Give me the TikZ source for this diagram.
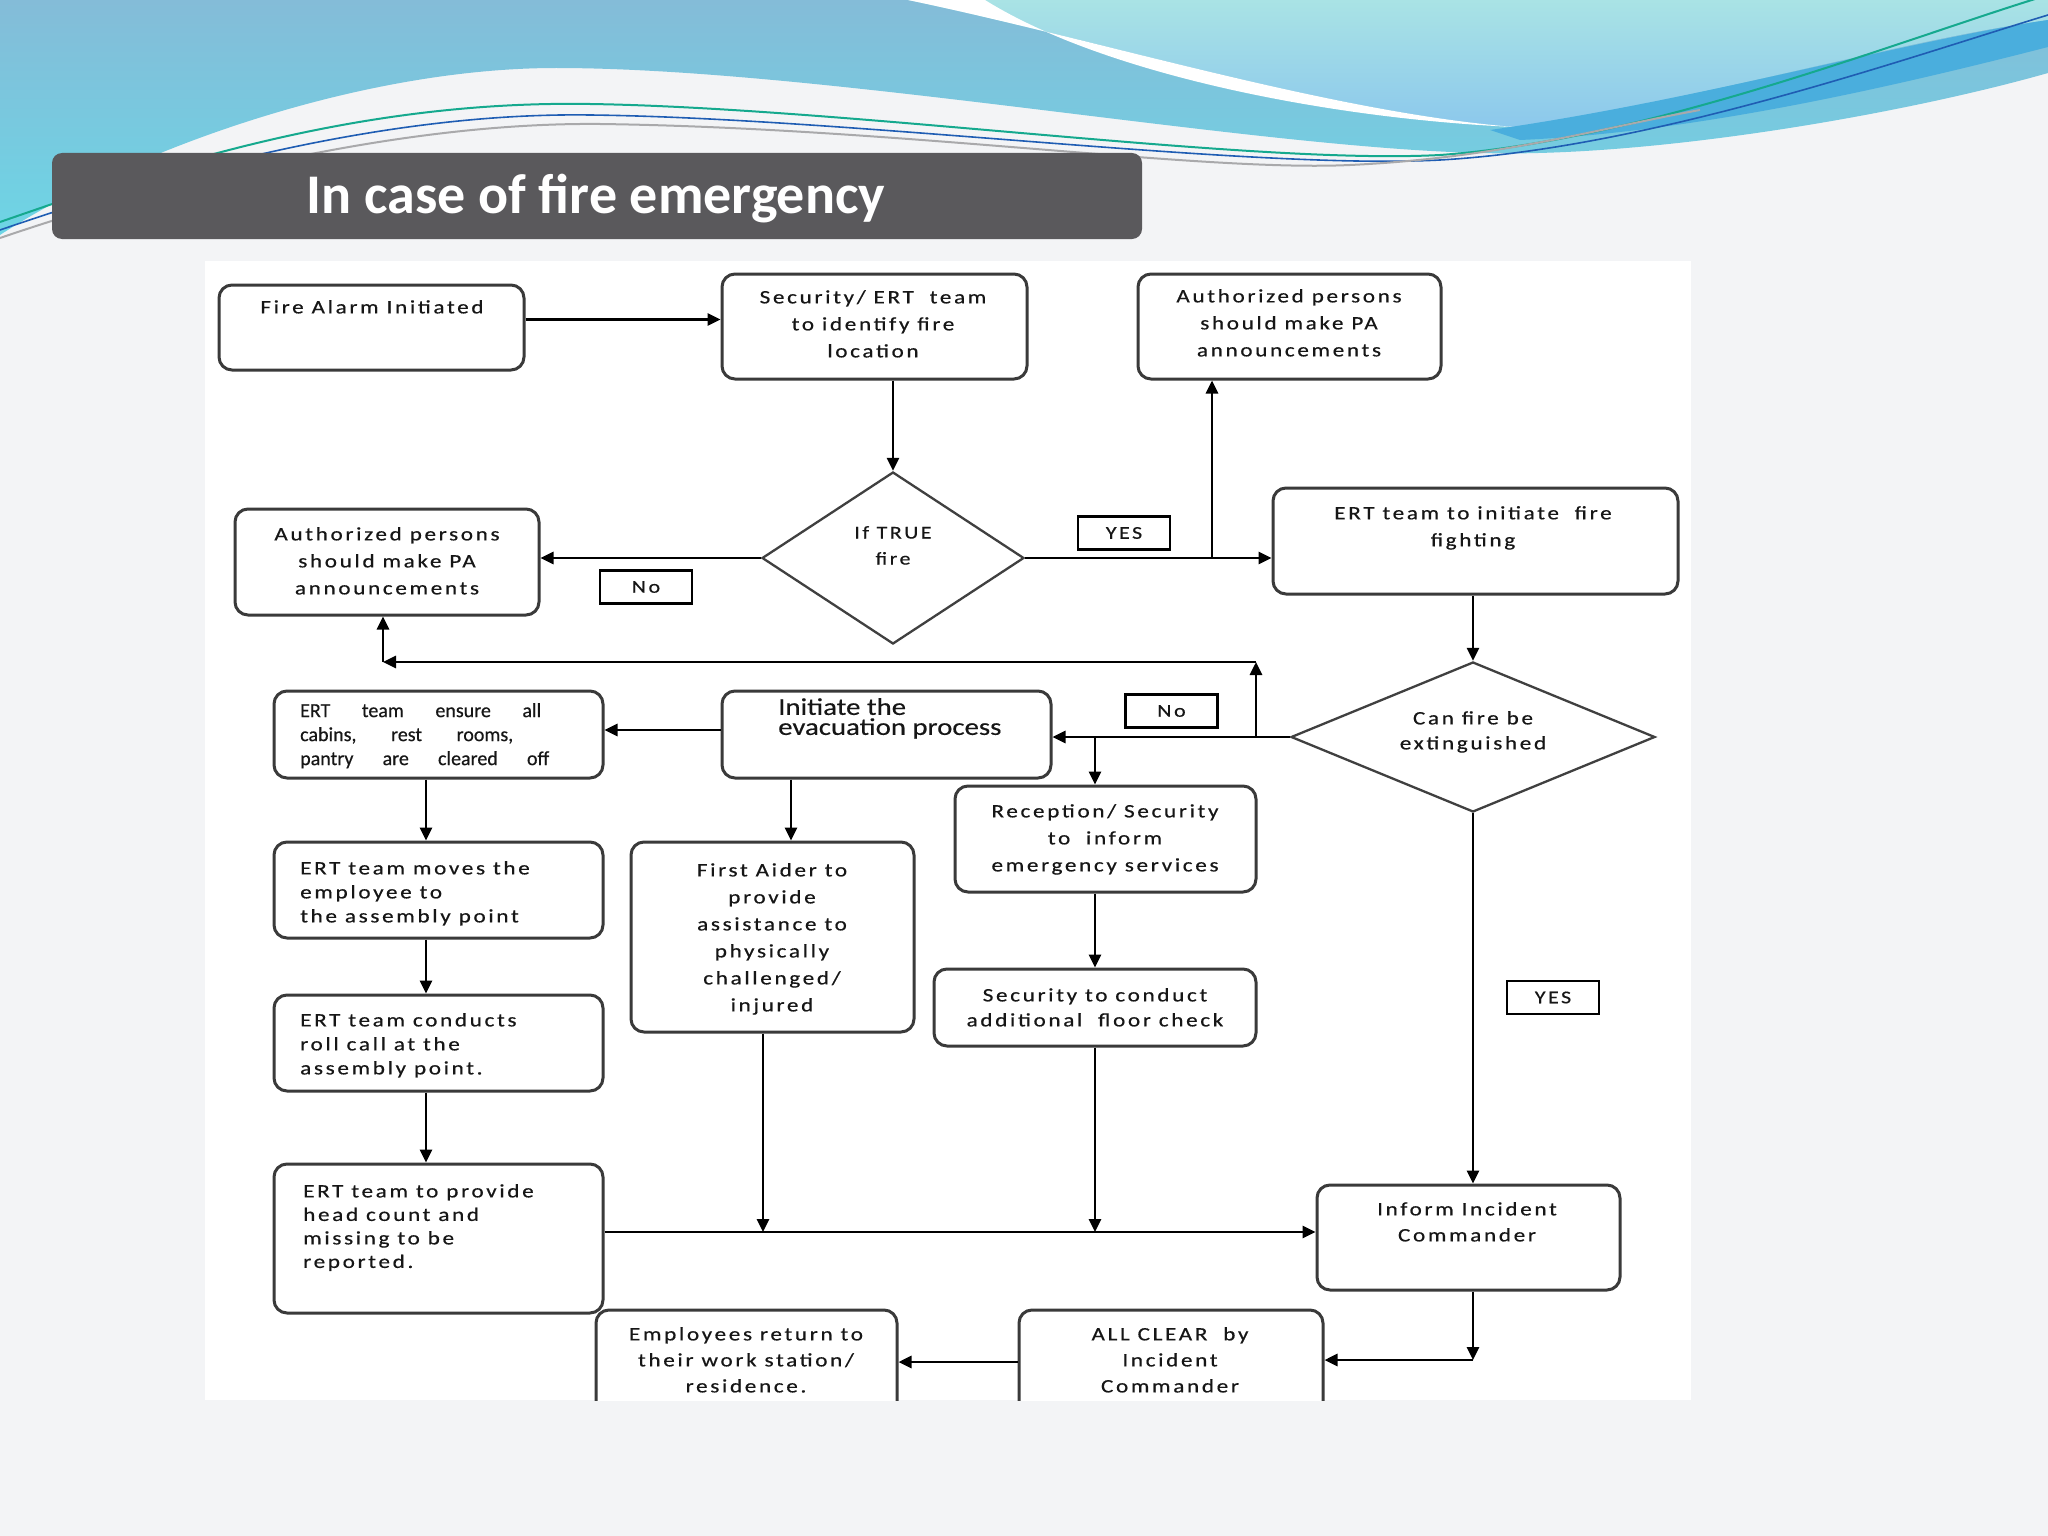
\documentclass[tikz,border=0pt]{standalone}
\usepackage{fontspec}
\setmainfont{Carlito}
\newfontfamily\chartfont[FakeStretch=1.22,LetterSpace=14,FakeBold=0.5]{Carlito}
\newfontfamily\initfont[FakeStretch=1.2,FakeBold=0.3]{Carlito}
\newfontfamily\plainfont[FakeBold=0.5]{Carlito}
\usetikzlibrary{shapes.geometric,arrows.meta}
\definecolor{slidebg}{HTML}{F3F4F6}
\definecolor{skya}{HTML}{84BCD8}
\definecolor{skyb}{HTML}{6DD5E5}
\definecolor{teala}{HTML}{A9E3E5}
\definecolor{tealb}{HTML}{8CC8EC}
\definecolor{bandc}{HTML}{4AAEDD}
\definecolor{linegreen}{HTML}{15A98E}
\definecolor{lineblue}{HTML}{1F5DB3}
\definecolor{linegrey}{HTML}{A9A9AB}
\definecolor{titlec}{HTML}{5A595C}
\definecolor{boxc}{HTML}{3A3A3A}
\definecolor{diac}{HTML}{404040}
\definecolor{txtc}{HTML}{161616}
\begin{document}
\begin{tikzpicture}[x=1pt,y=-1pt,
  box/.style={draw=boxc, line width=3pt, rounded corners=13pt, fill=white, inner sep=0pt},
  lab/.style={draw=black, line width=2.5pt, fill=white, inner sep=0pt, minimum width=92pt, minimum height=33pt, font=\chartfont\fontsize{18}{20}\selectfont, text=txtc},
  dia/.style={draw=diac, line width=2.3pt, diamond, fill=white, inner sep=0pt},
  txt/.style={font=\chartfont\fontsize{19}{27}\selectfont, align=center, anchor=north, inner sep=0pt, text=txtc},
  ltxt/.style={txt, align=left, anchor=north west},
  arr/.style={draw=black, line width=2.8pt, -{Triangle[length=13pt,width=12pt]}}
]
\useasboundingbox (0,0) rectangle (2048,1536);
% slide background
\fill[slidebg] (0,0) rectangle (2048,1536);
\shade[top color=skya, bottom color=skyb] (0,0) -- (2048,0) -- (2048,73)
  .. controls (1900,115) and (1650,158) .. (1481,153)
  .. controls (1250,148) and (820,68) .. (556,68)
  .. controls (360,68) and (130,150) .. (0,235) -- cycle;
\shade[top color=teala, bottom color=tealb] (908,0)
  .. controls (1100,40) and (1330,112) .. (1514,127)
  .. controls (1700,100) and (1900,40) .. (2048,20) -- (2048,0) -- cycle;
\fill[white] (908,0) .. controls (1100,40) and (1330,112) .. (1514,127)
  .. controls (1320,118) and (1100,72) .. (985,0) -- cycle;
\fill[bandc] (1490,130) .. controls (1700,100) and (1900,42) .. (2048,20)
  -- (2048,47) .. controls (1900,85) and (1700,132) .. (1520,140) -- cycle;
\draw[linegreen, line width=2pt] (0,222) .. controls (150,170) and (350,100) .. (590,104)
  .. controls (850,108) and (1250,165) .. (1440,155)
  .. controls (1650,140) and (1900,40) .. (2048,-5);
\draw[lineblue, line width=1.6pt] (0,230) .. controls (160,175) and (380,112) .. (590,115)
  .. controls (850,118) and (1250,170) .. (1440,160)
  .. controls (1650,148) and (1900,60) .. (2048,15);
\draw[linegrey, line width=2pt] (0,238) .. controls (170,180) and (400,122) .. (600,124)
  .. controls (900,128) and (1200,172) .. (1350,165)
  .. controls (1500,158) and (1600,128) .. (1700,110);
% title bar
\node[fill=titlec, rounded corners=10pt, minimum width=1090pt, minimum height=86pt, inner sep=0pt] (bar) at (597,196) {};
\node[font=\bfseries\fontsize{56}{60}\selectfont, text=white, anchor=base, inner sep=0pt] (title) at (596,213) {In case of fire emergency};
% diagram area
\fill[white] (205,261) rectangle (1691,1400);
\begin{scope}
\clip (205,261) rectangle (1691,1400);
% boxes
\node[box, minimum width=305pt, minimum height=85pt] (fa) at (371.5,327.5) {};
\node[box, minimum width=305pt, minimum height=105pt] (sec) at (874.5,326.5) {};
\node[box, minimum width=303pt, minimum height=105pt] (authR) at (1289.5,326.5) {};
\node[dia, minimum width=262pt, minimum height=172pt] (d1) at (893,558) {};
\node[box, minimum width=405pt, minimum height=106pt] (ertf) at (1475.5,541) {};
\node[box, minimum width=304pt, minimum height=106pt] (authL) at (387,562) {};
\node[dia, minimum width=364pt, minimum height=150pt] (d2) at (1473,737) {};
\node[box, minimum width=329pt, minimum height=87pt] (init) at (886.5,734.5) {};
\node[box, minimum width=329pt, minimum height=87pt] (ensure) at (438.5,734.5) {};
\node[box, minimum width=301pt, minimum height=106pt] (recep) at (1105.5,839) {};
\node[box, minimum width=322pt, minimum height=77pt] (secchk) at (1095,1007.5) {};
\node[box, minimum width=329pt, minimum height=96pt] (moves) at (438.5,890) {};
\node[box, minimum width=283pt, minimum height=190pt] (first) at (772.5,937) {};
\node[box, minimum width=329pt, minimum height=96pt] (roll) at (438.5,1043) {};
\node[box, minimum width=329pt, minimum height=149pt] (head) at (438.5,1238.5) {};
\node[box, minimum width=303pt, minimum height=105pt] (inform) at (1468.5,1237.5) {};
\node[box, minimum width=304pt, minimum height=130pt] (allclear) at (1171,1375) {};
\node[box, minimum width=301pt, minimum height=130pt] (employ) at (746.5,1375) {};
% labels
\node[lab] (yes1) at (1124,533) {YES};
\node[lab] (no1) at (646,587) {No};
\node[lab] (no2) at (1171.5,711) {No};
\node[lab] (yes2) at (1553,997.5) {YES};
% texts
\node[txt] (tfa) at (372,300) {Fire Alarm Initiated};
\node[txt] (tsec) at (873,290) {Security/ ERT \ team\\to identify fire\\location};
\node[txt] (tauthR) at (1289,289) {Authorized persons\\should make PA\\announcements};
\node[txt, font=\chartfont\fontsize{18}{26}\selectfont] (td1) at (893,526) {If TRUE\\fire};
\node[txt] (tertf) at (1473,506) {ERT team to initiate \ fire\\fighting};
\node[txt] (tauthL) at (387,527) {Authorized persons\\should make PA\\announcements};
\node[ltxt, font=\plainfont\fontsize{20}{24}\selectfont] (tensure) at (300,703)
  {\hbox to 241pt{ERT\hfil team\hfil ensure\hfil all}\\\hbox to 213pt{cabins,\hfil rest\hfil rooms,}\\\hbox to 249pt{pantry\hfil are\hfil cleared\hfil off}};
\node[ltxt, font=\initfont\fontsize{24}{20}\selectfont] (tinit) at (778,698) {Initiate the\\evacuation process};
\node[txt, font=\chartfont\fontsize{19}{25}\selectfont] (td2) at (1473,711) {Can fire be\\extinguished};
\node[txt] (trecep) at (1105,804) {Reception/ Security\\to \ inform\\emergency services};
\node[ltxt, font=\chartfont\fontsize{19}{24}\selectfont] (tmoves) at (300,861) {ERT team moves the\\employee to\\the assembly point};
\node[txt] (tfirst) at (772,863) {First Aider to\\provide\\assistance to\\physically\\challenged/\\injured};
\node[txt, font=\chartfont\fontsize{19}{25}\selectfont] (tsecchk) at (1095,988) {Security to conduct\\additional \ floor check};
\node[ltxt, font=\chartfont\fontsize{19}{24}\selectfont] (troll) at (300,1013) {ERT team conducts\\roll call at the\\assembly point.};
\node[ltxt, font=\chartfont\fontsize{19}{23.5}\selectfont] (thead) at (303,1184) {ERT team to provide\\head count and\\missing to be\\reported.};
\node[txt, font=\chartfont\fontsize{19}{26}\selectfont] (tinform) at (1467,1202) {Inform Incident\\Commander};
\node[txt, font=\chartfont\fontsize{19}{26}\selectfont] (temploy) at (746,1327) {Employees return to\\their work station/\\residence.};
\node[txt, font=\chartfont\fontsize{19}{26}\selectfont] (tall) at (1170,1327) {ALL CLEAR \ by\\Incident\\Commander};
% connectors
\coordinate (j1) at (1212,558);
\coordinate (j2) at (1256,737);
\coordinate (c1) at (1256,662);
\coordinate (c2) at (383,662);
\coordinate (j3) at (1095,737);
\coordinate (bl) at ([yshift=6.5pt]head.east);
\coordinate (c3) at (1473,1360);
\draw[arr] ([yshift=8pt]fa.east) -- ([yshift=8pt]fa.east -| sec.west);
\draw[arr] (d1.north |- sec.south) -- (d1.north);
\draw[arr] (d1.west) -- (d1.west -| authL.east);
\draw[arr] (d1.east) -- (d1.east -| ertf.west);
\draw[arr] (j1) -- (j1 |- authR.south);
\draw[arr] (d2.north |- ertf.south) -- (d2.north);
\draw[arr] (d2.west) -- (d2.west -| init.east);
\draw[arr] (j2) -- (c1);
\draw[arr] (c1) -- (c2);
\draw[arr] (c2) -- (c2 |- authL.south);
\draw[arr] (j3) -- (j3 |- recep.north);
\draw[arr] ([yshift=4.5pt]init.west) -- ([yshift=4.5pt]init.west -| ensure.east);
\draw[arr] ([xshift=-12.5pt]ensure.south) -- ([xshift=-12.5pt]moves.north);
\draw[arr] ([xshift=-12.5pt]moves.south) -- ([xshift=-12.5pt]roll.north);
\draw[arr] ([xshift=-12.5pt]roll.south) -- ([xshift=-12.5pt]head.north);
\draw[arr] ([xshift=-95.5pt]init.south) -- ([xshift=-95.5pt]init.south |- first.north);
\draw[arr] ([xshift=-10.5pt]recep.south) -- ([xshift=-10.5pt]recep.south |- secchk.north);
\draw[arr] (bl) -- (bl -| inform.west);
\draw[arr] ([xshift=-9.5pt]first.south) -- ([xshift=-9.5pt]first.south |- bl);
\draw[arr] (secchk.south) -- (secchk.south |- bl);
\draw[arr] (d2.south) -- (d2.south |- inform.north);
\draw[arr] (inform.south -| c3) -- (c3);
\draw[arr] (c3) -- (c3 -| allclear.east);
\draw[arr] ([yshift=13pt]allclear.west) -- ([yshift=13pt]allclear.west -| employ.east);
\end{scope}
\end{tikzpicture}
\end{document}
